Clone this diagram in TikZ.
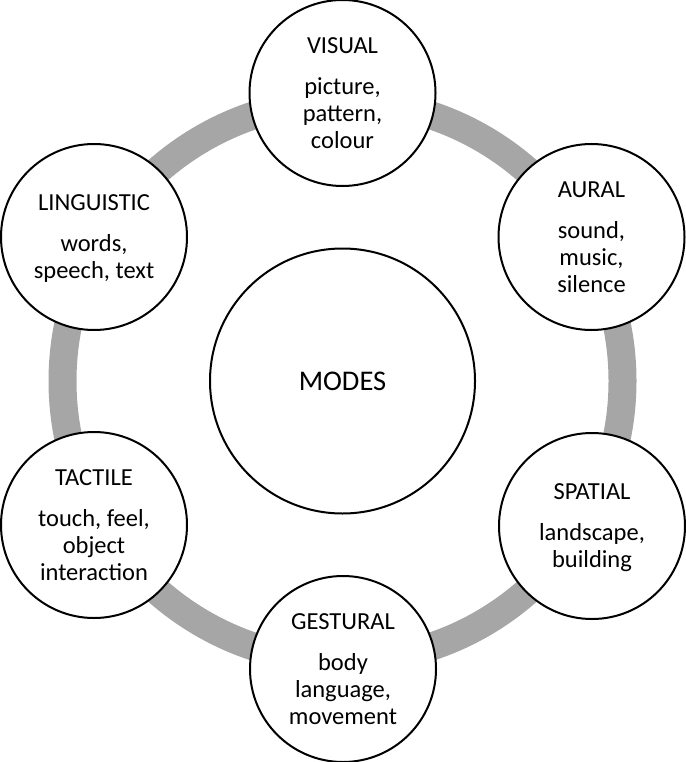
\documentclass[tikz,border=0pt]{standalone}
\usepackage{fontspec}
\setmainfont{Carlito}
\definecolor{ringgray}{HTML}{A6A6A6}
\begin{document}
\begin{tikzpicture}[x=1pt,y=1pt,
  modebox/.style={circle,draw=black,line width=2pt,fill=white,inner sep=0pt,
    minimum size=186pt,align=center,text depth=0pt,
    font=\fontsize{24.5pt}{27pt}\selectfont},
  hubbox/.style={circle,draw=black,line width=2pt,fill=white,inner sep=0pt,
    minimum size=265pt,font=\fontsize{28.5pt}{32pt}\selectfont}]
\useasboundingbox (0,0) rectangle (685,-762);
\coordinate (c) at (342.5,-381);
\draw[ringgray,line width=28pt] (c) circle[radius=280pt];
\node[hubbox] (modes) at (c) {MODES};
\node[modebox] (visual) at (342.5,-93) {VISUAL\\[14pt]picture,\\pattern,\\colour};
\node[modebox] (aural) at (591.5,-237) {AURAL\\[14pt]sound,\\music,\\silence};
\node[modebox] (spatial) at (592,-526) {SPATIAL\\[14pt]landscape,\\building};
\node[modebox] (gestural) at (343,-669) {GESTURAL\\[14pt]body\\language,\\movement};
\node[modebox] (tactile) at (94,-525) {TACTILE\\[14pt]touch, feel,\\object\\interaction};
\node[modebox] (linguistic) at (94,-237) {LINGUISTIC\\[14pt]words,\\speech, text};
\end{tikzpicture}
\end{document}
